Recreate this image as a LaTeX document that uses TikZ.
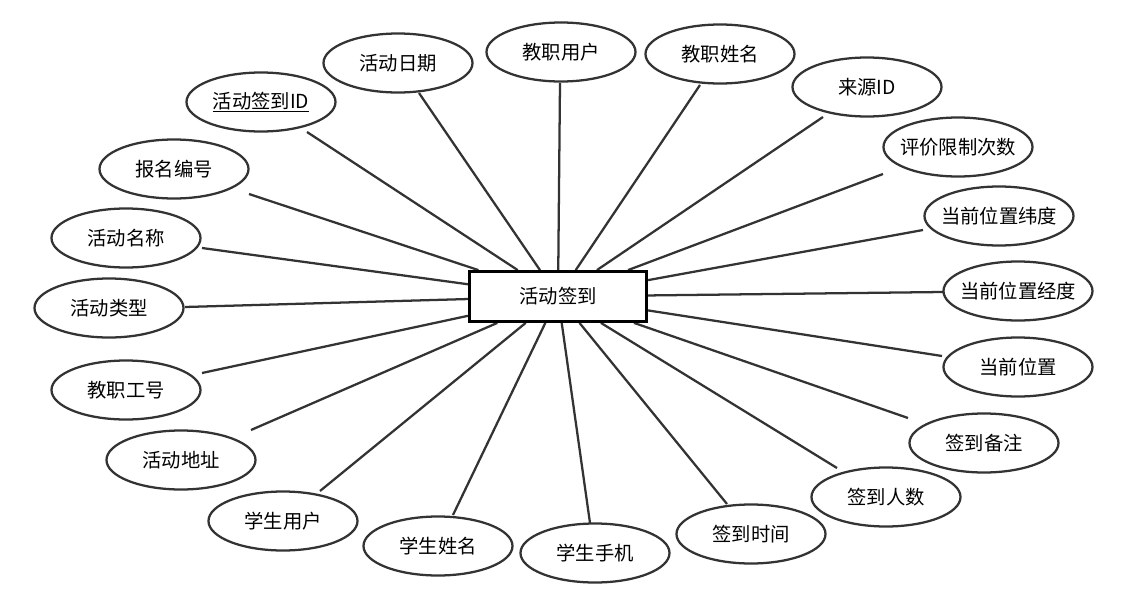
\documentclass[tikz,border=0pt]{standalone}
\usepackage{fontspec}
\setmainfont{Noto Sans CJK SC}
\usetikzlibrary{shapes.geometric}
\definecolor{edgegray}{HTML}{333333}
\newcommand{\attrtext}[1]{\makebox[0pt][c]{#1}}
\tikzset{
  attr/.style={ellipse, draw=edgegray, line width=1.7pt, fill=white,
    minimum width=111.75pt, minimum height=44.25pt, inner sep=0pt,
    font=\fontsize{14.5pt}{16pt}\selectfont},
  entity/.style={rectangle, draw=black, line width=2.1pt, fill=white,
    minimum width=133pt, minimum height=37.5pt, inner sep=0pt,
    font=\fontsize{14.5pt}{16pt}\selectfont},
  link/.style={draw=edgegray, line width=1.7pt}
}
\begin{document}
\begin{tikzpicture}[x=0.75pt,y=-0.75pt]
\useasboundingbox (0,0) rectangle (1122,603);
% attribute ellipses
\node[attr] (id)   at (261,102) {\attrtext{\underline{活动签到ID}}};
\node[attr] (rq)   at (398,63)  {\attrtext{活动日期}};
\node[attr] (jzyh) at (561,52)  {\attrtext{教职用户}};
\node[attr] (jzxm) at (720,54)  {\attrtext{教职姓名}};
\node[attr] (lyid) at (867,87)  {\attrtext{来源ID}};
\node[attr] (pj)   at (958,147) {\attrtext{评价限制次数}};
\node[attr] (wd)   at (999,216) {\attrtext{当前位置纬度}};
\node[attr] (jd)   at (1018,291) {\attrtext{当前位置经度}};
\node[attr] (wz)   at (1018,367) {\attrtext{当前位置}};
\node[attr] (bz)   at (984,443) {\attrtext{签到备注}};
\node[attr] (rs)   at (886,497) {\attrtext{签到人数}};
\node[attr] (sj)   at (751,534) {\attrtext{签到时间}};
\node[attr] (sjh)  at (595,553) {\attrtext{学生手机}};
\node[attr] (xm)   at (438,546) {\attrtext{学生姓名}};
\node[attr] (yh)   at (283,521) {\attrtext{学生用户}};
\node[attr] (dz)   at (181,460) {\attrtext{活动地址}};
\node[attr] (gh)   at (126,390) {\attrtext{教职工号}};
\node[attr] (lx)   at (109,308) {\attrtext{活动类型}};
\node[attr] (mc)   at (126,238) {\attrtext{活动名称}};
\node[attr] (bm)   at (174,169) {\attrtext{报名编号}};
% connector ends near the ellipses
\coordinate (eid)   at (307,132);
\coordinate (erq)   at (419,93);
\coordinate (ejzyh) at (560,83);
\coordinate (ejzxm) at (700,85);
\coordinate (elyid) at (823,117);
\coordinate (epj)   at (883,174);
\coordinate (ewd)   at (923,230);
\coordinate (ejd)   at (943,292);
\coordinate (ewz)   at (942,356);
\coordinate (ebz)   at (908,418);
\coordinate (ers)   at (837,468);
\coordinate (esj)   at (727,504);
\coordinate (esjh)  at (590,523);
\coordinate (exm)   at (453,515);
\coordinate (eyh)   at (320,491);
\coordinate (edz)   at (251,430);
\coordinate (egh)   at (202,373);
\coordinate (elx)   at (185,307);
\coordinate (emc)   at (202,248);
\coordinate (ebm)   at (249,194);
% entity
\node[entity] (e) at (558,296.5) {活动签到};
\foreach \t in {eid,erq,ejzyh,ejzxm,elyid,epj,ewd,ejd,ewz,ebz,ers,esj,esjh,exm,eyh,edz,egh,elx,emc,ebm}
  \draw[link] (e) -- (\t);
\node[entity] at (e) {活动签到};
\end{tikzpicture}
\end{document}
